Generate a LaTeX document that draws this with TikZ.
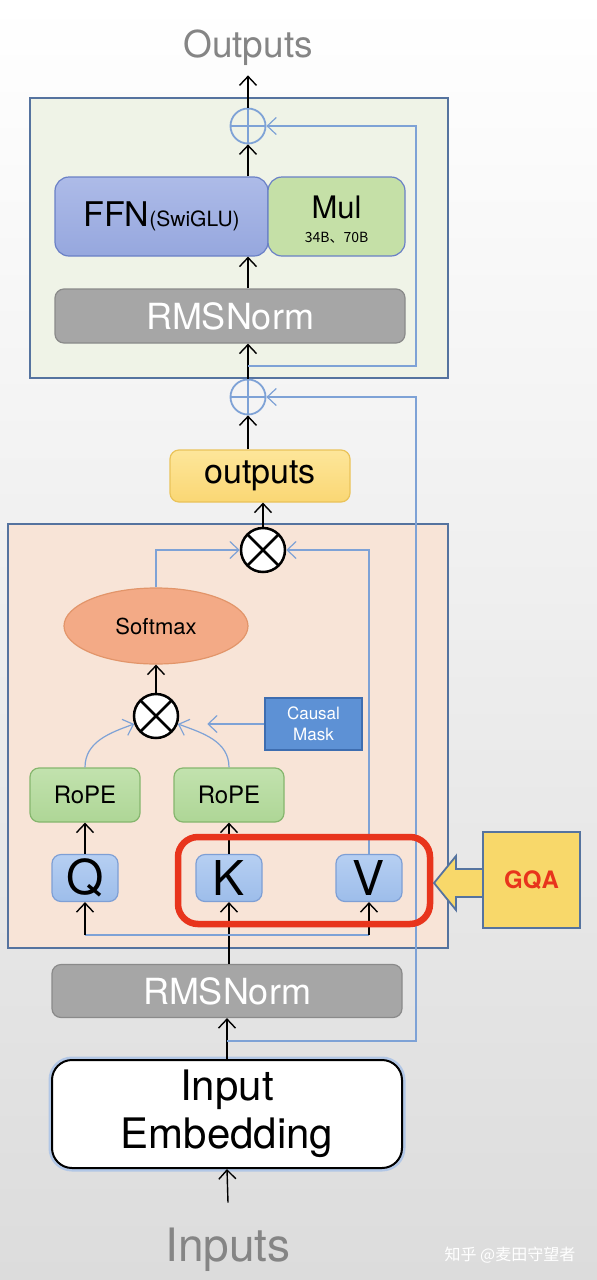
\documentclass[tikz,border=0pt]{standalone}
\usepackage{fontspec}
\setmainfont{TeX Gyre Heros}
\newfontfamily\cjkfont{Noto Sans CJK SC}
\usetikzlibrary{arrows.meta,shapes.geometric}

\definecolor{bggray}{HTML}{DCDCDC}
\definecolor{frameblue}{HTML}{55739F}
\definecolor{ffngreen}{HTML}{EFF3E7}
\definecolor{attnpeach}{HTML}{F8E4D7}
\definecolor{linkblue}{HTML}{7EA2D6}
\definecolor{labelgray}{HTML}{858585}
\definecolor{ffntop}{HTML}{ADBBE8}
\definecolor{ffnbot}{HTML}{96A7DE}
\definecolor{ffnedge}{HTML}{6A80C6}
\definecolor{mulgreen}{HTML}{C5E0A7}
\definecolor{normgray}{HTML}{A6A6A6}
\definecolor{normedge}{HTML}{8A8A8A}
\definecolor{outtop}{HTML}{FDE69A}
\definecolor{outbot}{HTML}{FAD774}
\definecolor{outedge}{HTML}{EAC35A}
\definecolor{softorange}{HTML}{F3AA86}
\definecolor{softedge}{HTML}{E2956A}
\definecolor{maskblue}{HTML}{5D91D5}
\definecolor{maskedge}{HTML}{3E6DB0}
\definecolor{ropetop}{HTML}{C2E2AE}
\definecolor{ropebot}{HTML}{AED696}
\definecolor{ropeedge}{HTML}{86B66E}
\definecolor{qkvtop}{HTML}{B6CFF2}
\definecolor{qkvbot}{HTML}{9DBDEA}
\definecolor{qkvedge}{HTML}{7E9FD5}
\definecolor{gqared}{HTML}{E8341C}
\definecolor{gqayellow}{HTML}{F8D86A}

\tikzset{
  arr/.style={-{Straight Barb[length=9pt,width=17pt]}, line width=1.4pt, black},
  blarr/.style={-{Straight Barb[length=9pt,width=17pt]}, line width=1.2pt, linkblue},
  block/.style={draw=frameblue, line width=2pt, inner sep=0pt},
  box/.style={rounded corners=9pt, line width=1.2pt, inner sep=0pt, align=center},
  rope/.style={box, top color=ropetop, bottom color=ropebot, draw=ropeedge,
    minimum width=110pt, minimum height=54pt, font=\fontsize{24}{28}\selectfont},
  qkv/.style={box, top color=qkvtop, bottom color=qkvbot, draw=qkvedge,
    minimum width=66pt, minimum height=47pt, font=\fontsize{48}{50}\selectfont},
  norm/.style={box, fill=normgray, draw=normedge, text=white,
    minimum width=350pt, minimum height=54pt, font=\fontsize{36}{40}\selectfont},
  addop/.style={circle, draw=linkblue, line width=1.8pt, minimum size=35pt, inner sep=0pt,
    path picture={\draw[linkblue, line width=1.8pt]
      (path picture bounding box.north) -- (path picture bounding box.south)
      (path picture bounding box.west) -- (path picture bounding box.east);}},
  mulop/.style={circle, draw=black, fill=white, line width=2.5pt, minimum size=44pt, inner sep=0pt,
    path picture={\draw[line width=2.5pt]
      (path picture bounding box.north west) -- (path picture bounding box.south east)
      (path picture bounding box.south west) -- (path picture bounding box.north east);}},
}

\begin{document}
\begin{tikzpicture}[x=1pt,y=-1pt]
  \shade[top color=white, bottom color=bggray] (0,0) rectangle (597,1280);
  \useasboundingbox (0,0) rectangle (597,1280);

  % the two blocks
  \node[block, fill=ffngreen, minimum width=418pt, minimum height=280pt] (ffnblk) at (239,238) {};
  \node[block, fill=attnpeach, minimum width=440pt, minimum height=424pt] (attnblk) at (228,736) {};

  \node[text=labelgray, font=\fontsize{37}{40}\selectfont] (outlbl) at (248,48) {Outputs};
  \node[text=labelgray, font=\fontsize{46}{50}\selectfont] (inlbl) at (228,1250) {Inputs};

  % feed forward part
  \node[addop] (addtop) at (248,126) {};
  \node[box, rounded corners=14pt, top color=ffntop, bottom color=ffnbot, draw=ffnedge,
    minimum width=213pt, minimum height=79pt] (ffn) at (161.5,216.5)
    {\fontsize{34}{36}\selectfont FFN\fontsize{21}{24}\selectfont(SwiGLU)};
  \node[box, rounded corners=14pt, fill=mulgreen, draw=ffnedge, minimum width=137pt, minimum height=79pt]
    (mul) at (336.5,216.5) {};
  \node[font=\fontsize{31}{34}\selectfont] (multxt) at (336.5,207) {Mul};
  \node[font=\cjkfont\fontsize{14}{16}\selectfont] (mulsub) at (336.5,238) {34B、70B};
  \node[norm] (norm1) at (230,316) {RMSNorm};
  \node[addop] (addmid) at (248,397) {};

  \node[box, top color=outtop, bottom color=outbot, draw=outedge, minimum width=180pt, minimum height=52pt,
    font=\fontsize{34}{38}\selectfont] (outs) at (260,476) {outputs};

  % attention part
  \node[mulop] (mulv) at (263,550) {};
  \node[ellipse, fill=softorange, draw=softedge, line width=1.2pt, minimum width=184pt, minimum height=76pt,
    font=\fontsize{22}{26}\selectfont] (softmax) at (156,626) {Softmax};
  \node[mulop] (mulqk) at (156,716) {};
  \node[fill=maskblue, draw=maskedge, line width=1.5pt, text=white, minimum width=97pt, minimum height=52pt,
    inner sep=0pt, align=center, font=\fontsize{17}{21}\selectfont] (mask) at (313.5,724) {Causal\\Mask};
  \node[rope] (ropeq) at (85,795) {RoPE};
  \node[rope] (ropek) at (229,795) {RoPE};
  \node[qkv] (q) at (85,878) {Q};
  \node[qkv] (k) at (229,878) {K};
  \node[qkv] (v) at (369,878) {V};

  \node[norm, minimum height=53pt] (norm2) at (227,991) {RMSNorm};
  \node[box, rounded corners=20pt, fill=white, draw=black, line width=2pt,
    preaction={draw=linkblue!60, line width=7pt},
    minimum width=350pt, minimum height=108pt, font=\fontsize{42}{48}\selectfont]
    (embed) at (227,1114) {Input\\Embedding};

  \coordinate (skipffn) at (416,366);
  \coordinate (skipin) at (416,1041);
  \coordinate (bus) at (229,935);

  % main path
  \draw[arr] ([yshift=22pt]inlbl.north) -- (embed.south);
  \draw[arr] (embed.north) -- (norm2.south);
  \draw[arr] (norm2.north -| k) -- (k.south);
  \draw[linkblue, line width=1.2pt] (q |- bus) -- (v |- bus);
  \draw[arr] (q |- bus) -- (q.south);
  \draw[arr] (v |- bus) -- (v.south);
  \draw[arr] (q.north) -- (ropeq.south);
  \draw[arr] (k.north) -- (ropek.south);
  \draw[blarr] (ropeq.north) to[out=90,in=200] (mulqk.200);
  \draw[blarr] (ropek.north) to[out=90,in=-20] (mulqk.-20);
  \draw[blarr, shorten >=28pt] (mask.west) -- (mask.west -| mulqk.east);
  \draw[arr] (mulqk.north) -- (softmax.south);
  \draw[blarr] (softmax.north) |- (mulv.west);
  \draw[blarr] (v.north) |- (mulv.east);
  \draw[arr] (mulv.north) -- (outs.south -| mulv);
  \draw[arr] (outs.north -| addmid) -- (addmid.south);
  \draw[arr] (addmid.north) -- (norm1.south -| addmid);
  \draw[arr] (norm1.north -| addtop) -- (ffn.south -| addtop);
  \draw[arr] (ffn.north -| addtop) -- (addtop.south);
  \draw[arr] (addtop.north) -- ([yshift=-6pt]outlbl.south);

  % residual links
  \draw[blarr] (embed.north |- skipin) -- (skipin) |- (addmid.east);
  \draw[blarr] (addtop |- skipffn) -- (skipffn) |- (addtop.east);

  % GQA mark
  \node[draw=gqared, line width=6.5pt, rounded corners=20pt, minimum width=252pt, minimum height=87pt]
    (gqazone) at (304,880.5) {};
  \filldraw[fill=gqayellow, draw=frameblue, line width=1.8pt]
    (484,869) -- (456,869) -- (456,856) -- (434,883) -- (456,910) -- (456,897) -- (484,897);
  \node[fill=gqayellow, draw=frameblue, line width=1.8pt, minimum width=97pt, minimum height=96pt,
    text=gqared, font=\bfseries\fontsize{24}{28}\selectfont] (gqa) at (531.5,880) {GQA};

  \node[text=white, font=\cjkfont\fontsize{16}{18}\selectfont] (mark) at (510,1255) {知乎 @麦田守望者};
\end{tikzpicture}
\end{document}
